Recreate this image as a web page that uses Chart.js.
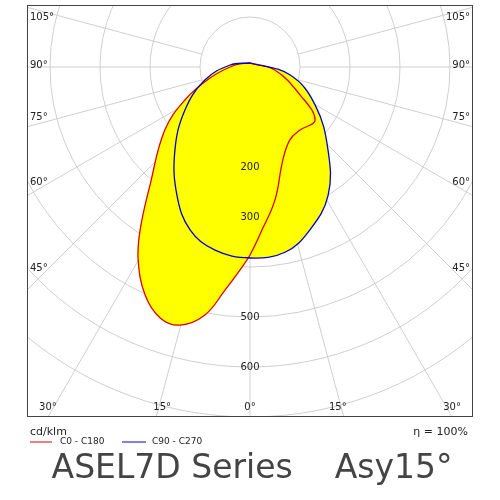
<!DOCTYPE html>
<html><head><meta charset="utf-8">
<script src="https://cdn.jsdelivr.net/npm/chart.js@4"></script>
<style>body{margin:0;background:#fff}</style></head>
<body><canvas id="c" width="500" height="500"></canvas>
<script>
// polar data: angle in degrees from nadir (signed), intensity cd/klm
const redAngles = [180,83,60.8,50.8,38.4,28.7,19.5,10.6,4.2,0,-2.8,-6.4,-10.3,-15.2,-19.7,-24.7,-30.1,-34,-40.3,-53.5,-63.1,-74.6,-97.6,-180];
const redValues = [8,50,115,168,161,166,197,271,327,376,406,449,504,535,533,502,446,393,309,212,146,83,30,8];
const blueAngles = [180,78.7,59.7,43.2,31.4,20.2,10.7,0,-10.8,-20.2,-29.7,-42.1,-56.5,-73.9,-95.7,-180];
const blueValues = [8,82,151,228,300,347,377,382,373,347,295,224,156,94,40,8];
const ringValues = [100,200,300,400,500,600,700];
const ringLabels = ['200','300','500','600'];
const spokeAngles = [-105,-90,-75,-60,-45,-30,-15,0,15,30,45,60,75,90,105];
const sideLabels = [105, 90, 75, 60, 45];

const toXY = (a, v) => a.map((d, i) => {
  const t = d * Math.PI / 180;
  return {x: v[i] * Math.sin(t), y: -v[i] * Math.cos(t)};
});
const red = toXY(redAngles, redValues), blue = toXY(blueAngles, blueValues);

const grid = {
  id: 'grid',
  beforeDatasetsDraw(ch) {
    const {ctx, chartArea: A, scales: {x, y}} = ch;
    const cx = x.getPixelForValue(0), cy = y.getPixelForValue(0);
    const k = x.getPixelForValue(100) - cx;
    ctx.save();
    ctx.beginPath(); ctx.rect(A.left, A.top, A.right - A.left, A.bottom - A.top); ctx.clip();
    ctx.strokeStyle = '#cfcfcf'; ctx.lineWidth = 1;
    ringValues.forEach(r => { ctx.beginPath(); ctx.arc(cx, cy, r * k / 100, 0, 2 * Math.PI); ctx.stroke(); });
    spokeAngles.forEach(d => {
      const t = d * Math.PI / 180, s = Math.sin(t), c = Math.cos(t);
      ctx.beginPath(); ctx.moveTo(cx + s * k, cy + c * k); ctx.lineTo(cx + s * 1500, cy + c * 1500); ctx.stroke();
    });
    ctx.restore();
  },
  afterDatasetsDraw(ch) {
    const {ctx, chartArea: A, scales: {x, y}} = ch;
    const cx = x.getPixelForValue(0), cy = y.getPixelForValue(0);
    const k = x.getPixelForValue(100) - cx;
    ctx.save();
    ctx.fillStyle = '#222'; ctx.font = '10px "DejaVu Sans"'; ctx.textAlign = 'center'; ctx.textBaseline = 'middle';
    ringLabels.forEach(l => ctx.fillText(l, cx, cy + (+l) * k / 100));
    const offs = {105: 10, 90: -2, 75: -9, 60: -13, 45: -22};
    sideLabels.forEach(d => {
      const t = d * Math.PI / 180;
      const yy = cy + (cx - A.left) / Math.tan(t) + offs[d];
      ctx.textAlign = 'left'; ctx.fillText(d + '°', A.left + 3, yy);
      ctx.textAlign = 'right'; ctx.fillText(d + '°', A.right - 3, yy);
    });
    ctx.textAlign = 'center';
    [30, 15, 0].forEach(d => {
      const off = (A.bottom - cy) * Math.tan(d * Math.PI / 180);
      const dx = d === 30 ? Math.min(off, cx - A.left - 15) : off - (d === 15 ? 6 : 0);
      ctx.fillText(d + '°', cx - dx, A.bottom - 10);
      if (d) ctx.fillText(d + '°', cx + dx, A.bottom - 10);
    });
    ctx.strokeStyle = '#444'; ctx.lineWidth = 1;
    ctx.strokeRect(A.left + 0.5, A.top + 0.5, A.right - A.left - 1, A.bottom - A.top - 1);
    ctx.textAlign = 'left'; ctx.font = '11px "DejaVu Sans"';
    ctx.fillText('cd/klm', 30, 432);
    ctx.textAlign = 'right'; ctx.fillText('η = 100%', 468, 432);
    ctx.textAlign = 'left'; ctx.font = '9px "DejaVu Sans"';
    ctx.strokeStyle = '#e00000'; ctx.beginPath(); ctx.moveTo(30, 442); ctx.lineTo(52, 442); ctx.stroke();
    ctx.fillText('C0 - C180', 60, 442);
    ctx.strokeStyle = '#0000d0'; ctx.beginPath(); ctx.moveTo(122, 442); ctx.lineTo(146, 442); ctx.stroke();
    ctx.fillText('C90 - C270', 152, 442);
    ctx.fillStyle = '#444'; ctx.font = '33px "DejaVu Sans"'; ctx.textAlign = 'center';
    ctx.fillText('ASEL7D Series    Asy15°', 252, 469);
    ctx.restore();
  }
};

new Chart(document.getElementById('c'), {
  type: 'scatter',
  data: {datasets: [
    {data: blue, showLine: true, borderColor: '#0000d0', borderWidth: 1.3, pointRadius: 0, fill: false, tension: 0.4},
    {data: red, showLine: true, borderColor: '#e00000', borderWidth: 1.3, pointRadius: 0, fill: false, tension: 0.4},
    {data: blue, showLine: true, borderWidth: 0, borderColor: 'rgba(0,0,0,0)', backgroundColor: '#ffff00', pointRadius: 0, fill: 'shape', tension: 0.4},
    {data: red, showLine: true, borderWidth: 0, borderColor: 'rgba(0,0,0,0)', backgroundColor: '#ffff00', pointRadius: 0, fill: 'shape', tension: 0.4}
  ]},
  options: {
    responsive: false, animation: false,
    layout: {padding: {left: 27, right: 27, top: 5, bottom: 83}},
    plugins: {legend: {display: false}, tooltip: {enabled: false}},
    scales: {x: {display: false, min: -446, max: 446}, y: {display: false, min: -700, max: 124}}
  },
  plugins: [grid]
});
</script></body></html>
